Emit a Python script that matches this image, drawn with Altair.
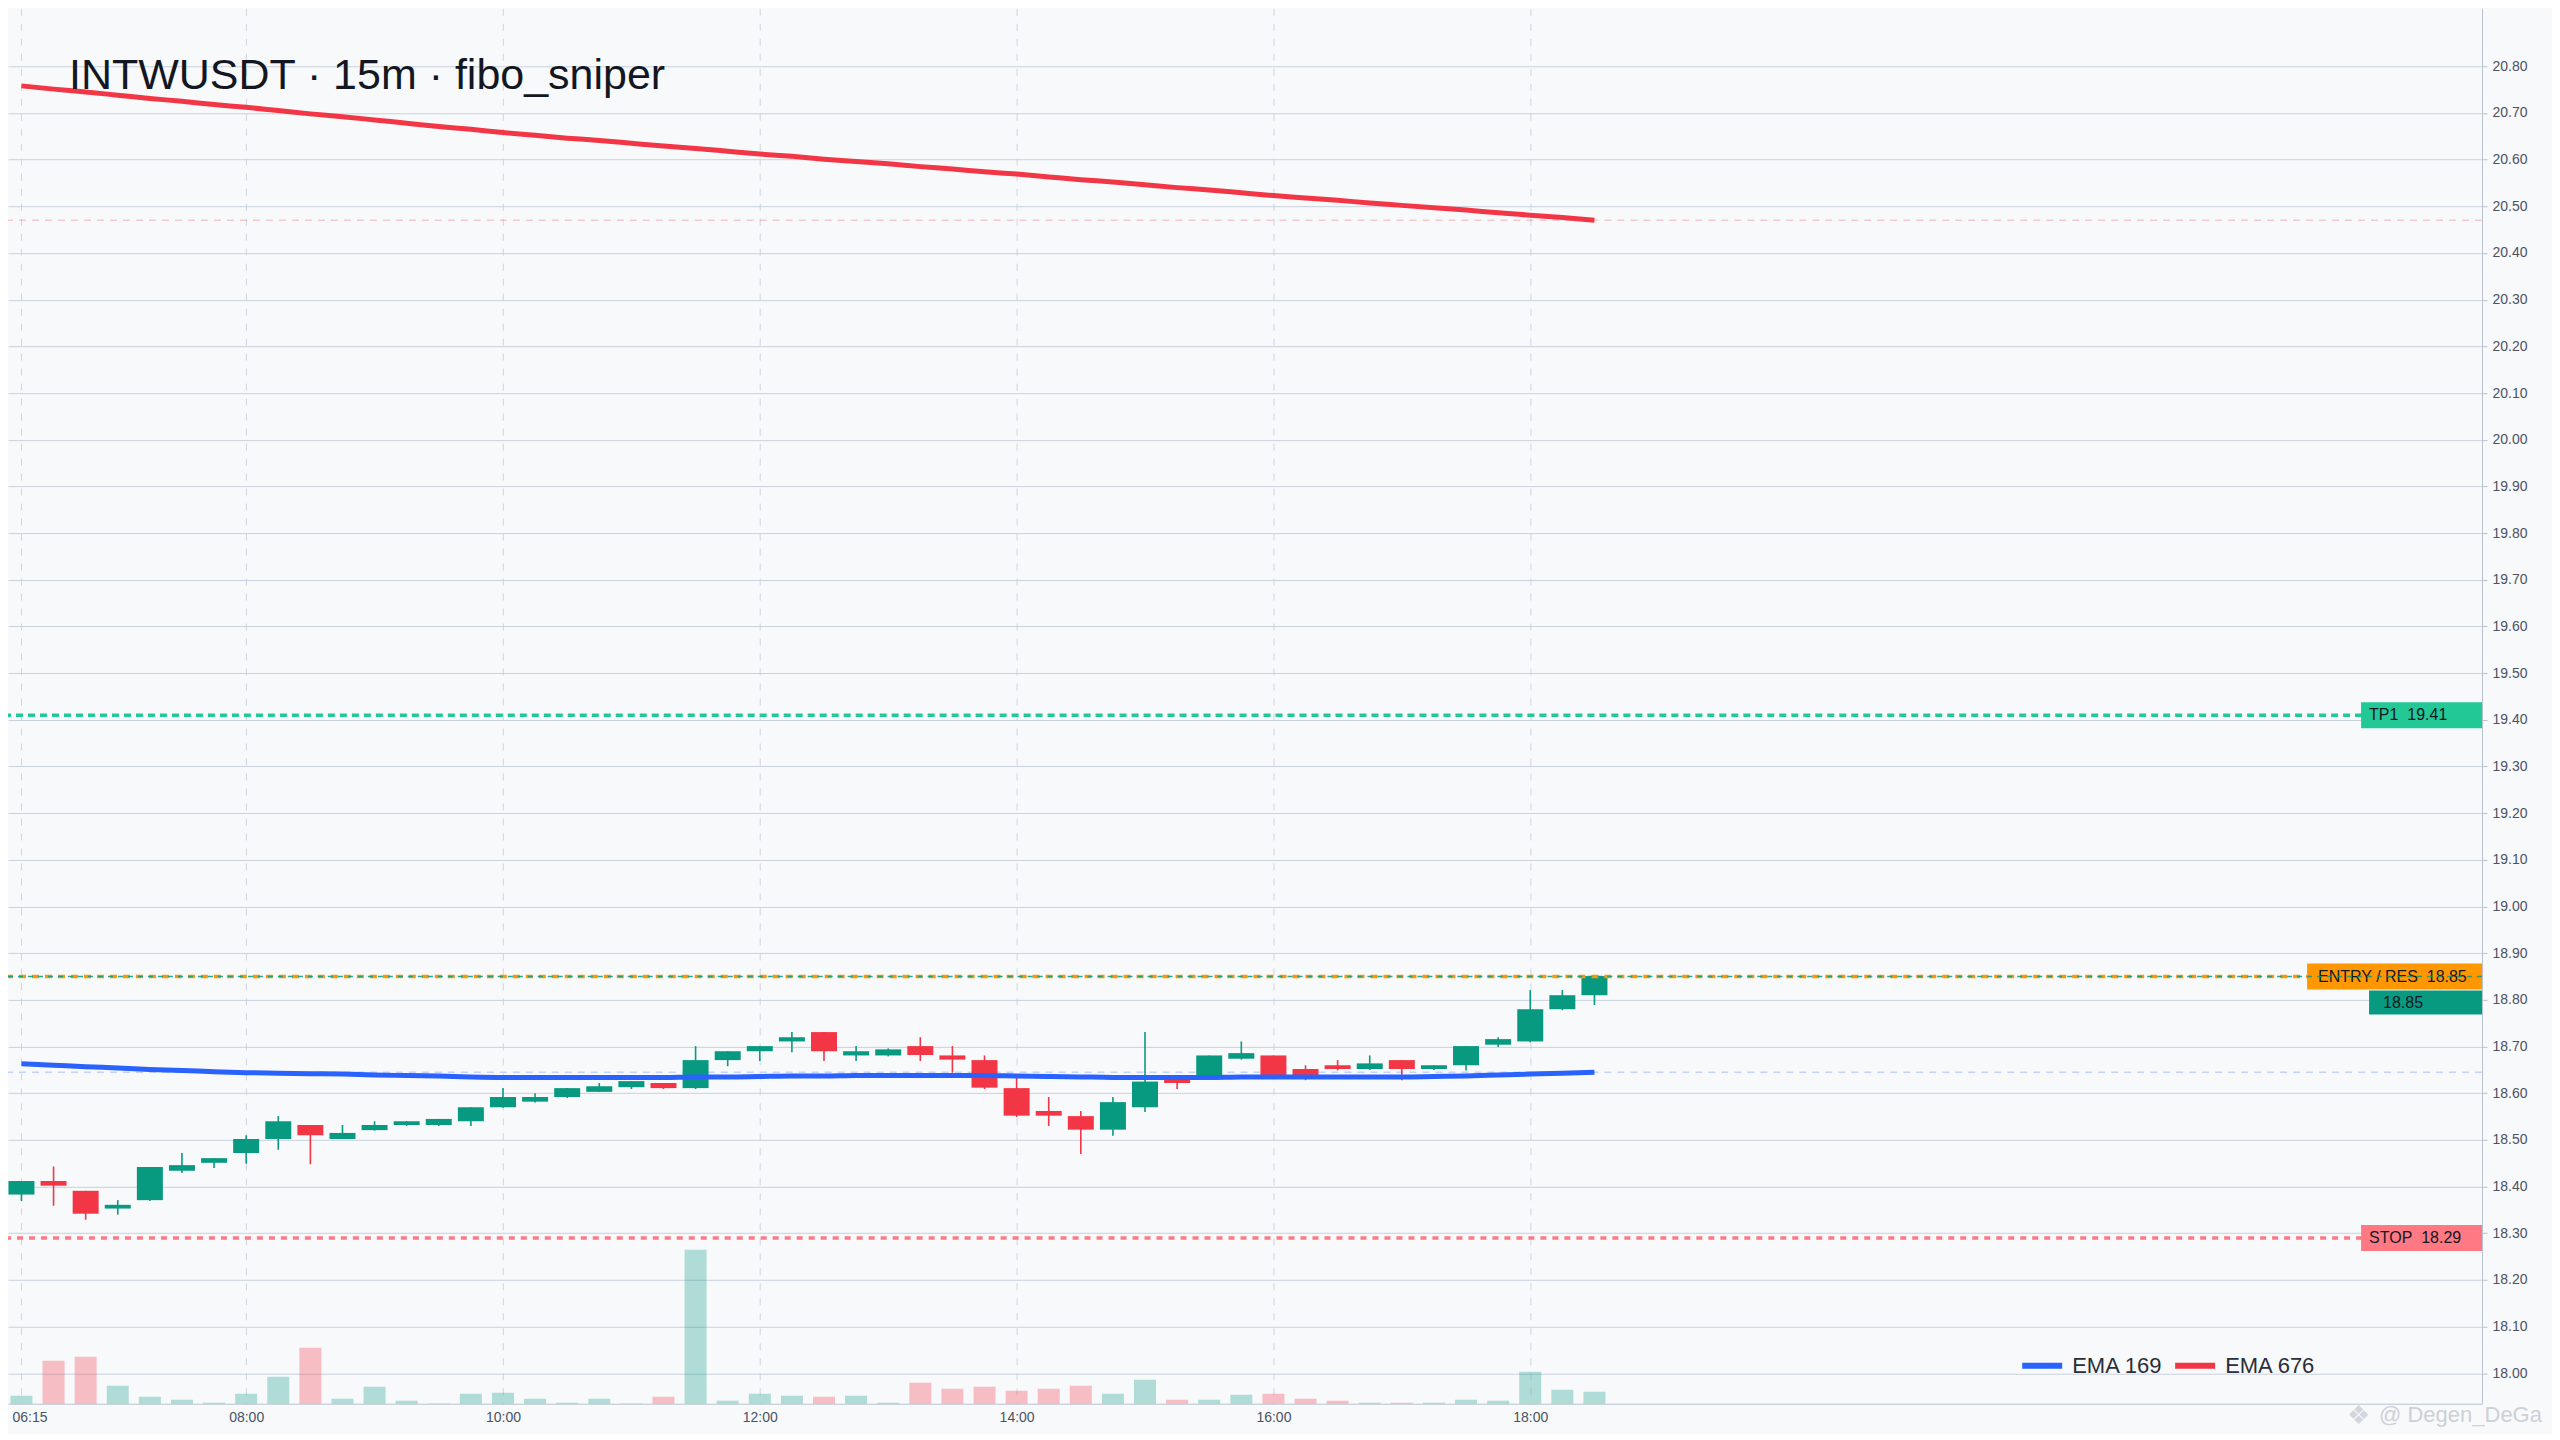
import altair as alt
import pandas as pd

# ---------------- data ----------------
TITLE = "INTWUSDT · 15m · fibo_sniper"
WATERMARK = "@ Degen_DeGa"
LOGO = "❖"

times = ["06:15", "06:30", "06:45", "07:00", "07:15", "07:30", "07:45", "08:00",
         "08:15", "08:30", "08:45", "09:00", "09:15", "09:30", "09:45", "10:00",
         "10:15", "10:30", "10:45", "11:00", "11:15", "11:30", "11:45", "12:00",
         "12:15", "12:30", "12:45", "13:00", "13:15", "13:30", "13:45", "14:00",
         "14:15", "14:30", "14:45", "15:00", "15:15", "15:30", "15:45", "16:00",
         "16:15", "16:30", "16:45", "17:00", "17:15", "17:30", "17:45", "18:00",
         "18:15", "18:30"]

opens = [18.383, 18.412, 18.391, 18.353, 18.371, 18.434, 18.451, 18.472,
         18.502, 18.532, 18.502, 18.521, 18.532, 18.532, 18.540, 18.570,
         18.582, 18.592, 18.603, 18.613, 18.622, 18.611, 18.671, 18.690,
         18.711, 18.731, 18.681, 18.681, 18.701, 18.681, 18.671, 18.611,
         18.562, 18.551, 18.522, 18.570, 18.636, 18.632, 18.674, 18.681,
         18.652, 18.660, 18.652, 18.671, 18.652, 18.660, 18.704, 18.711,
         18.780, 18.810]
highs = [18.412, 18.443, 18.391, 18.371, 18.442, 18.472, 18.461, 18.510,
         18.551, 18.532, 18.532, 18.540, 18.540, 18.545, 18.570, 18.611,
         18.600, 18.611, 18.622, 18.626, 18.622, 18.701, 18.690, 18.701,
         18.731, 18.731, 18.701, 18.696, 18.720, 18.701, 18.681, 18.633,
         18.592, 18.562, 18.592, 18.731, 18.636, 18.681, 18.711, 18.681,
         18.660, 18.671, 18.681, 18.671, 18.660, 18.701, 18.720, 18.821,
         18.821, 18.851]
lows = [18.369, 18.359, 18.329, 18.340, 18.369, 18.429, 18.440, 18.449,
        18.479, 18.448, 18.502, 18.520, 18.530, 18.530, 18.530, 18.569,
        18.580, 18.590, 18.603, 18.609, 18.609, 18.609, 18.658, 18.669,
        18.688, 18.669, 18.669, 18.679, 18.669, 18.644, 18.609, 18.549,
        18.530, 18.470, 18.509, 18.560, 18.609, 18.630, 18.672, 18.635,
        18.628, 18.649, 18.650, 18.628, 18.650, 18.649, 18.699, 18.709,
        18.778, 18.789]
closes = [18.412, 18.402, 18.342, 18.361, 18.442, 18.446, 18.461, 18.502,
          18.540, 18.510, 18.515, 18.532, 18.540, 18.545, 18.570, 18.592,
          18.592, 18.611, 18.615, 18.626, 18.611, 18.671, 18.690, 18.701,
          18.720, 18.690, 18.690, 18.694, 18.682, 18.672, 18.612, 18.552,
          18.552, 18.522, 18.581, 18.625, 18.622, 18.681, 18.686, 18.637,
          18.637, 18.652, 18.664, 18.652, 18.660, 18.701, 18.716, 18.780,
          18.810, 18.851]
volumes = [24, 129, 141, 54, 21, 12, 3, 30, 81, 168, 15, 51, 9, 1, 30, 33,
           15, 3, 15, 1, 21, 462, 9, 30, 24, 21, 24, 3, 63, 45, 51, 39,
           45, 54, 30, 72, 12, 12, 27, 30, 15, 9, 3, 3, 3, 12, 9, 96,
           42, 36]
ema169 = [18.663, 18.660, 18.657, 18.654, 18.651, 18.649, 18.646, 18.644,
          18.643, 18.642, 18.641, 18.639, 18.638, 18.637, 18.635, 18.634,
          18.634, 18.634, 18.634, 18.634, 18.634, 18.635, 18.635, 18.636,
          18.637, 18.637, 18.638, 18.638, 18.638, 18.638, 18.638, 18.637,
          18.636, 18.635, 18.634, 18.634, 18.634, 18.634, 18.635, 18.635,
          18.635, 18.635, 18.635, 18.635, 18.636, 18.637, 18.639, 18.641,
          18.643, 18.645]
ema676 = [20.758, 20.751, 20.745, 20.738, 20.731, 20.725, 20.718, 20.712,
          20.705, 20.698, 20.692, 20.685, 20.678, 20.671, 20.665, 20.658,
          20.652, 20.646, 20.641, 20.635, 20.629, 20.624, 20.618, 20.612,
          20.607, 20.601, 20.596, 20.591, 20.585, 20.580, 20.574, 20.569,
          20.563, 20.557, 20.552, 20.546, 20.540, 20.535, 20.529, 20.523,
          20.518, 20.513, 20.507, 20.502, 20.497, 20.492, 20.486, 20.481,
          20.476, 20.470]
ema_names = ["EMA 169", "EMA 676"]

level_names = ["TP1", "ENTRY / RES", "STOP"]
level_prices = [19.41, 18.85, 18.29]
last_price = 18.85

x_tick_labels = ["06:15", "08:00", "10:00", "12:00", "14:00", "16:00", "18:00"]
y_tick_labels = ["18.00", "18.10", "18.20", "18.30", "18.40", "18.50", "18.60",
                 "18.70", "18.80", "18.90", "19.00", "19.10", "19.20", "19.30",
                 "19.40", "19.50", "19.60", "19.70", "19.80", "19.90", "20.00",
                 "20.10", "20.20", "20.30", "20.40", "20.50", "20.60", "20.70",
                 "20.80"]

# ---------------- styles ----------------
FONT = "Liberation Sans"
BG = "#f8f9fb"
GREEN = "#089981"
RED = "#F23645"
BLUE = "#2962FF"
TEXT = "#131722"
AXIS_TEXT = "#4a5263"
PLOT_W, PLOT_H = 2475, 1396
X_DOMAIN = [371.05, 1522.4]
Y_DOMAIN = [17.9349, 20.9242]
VOL_DOMAIN = [0, 4188]
NBSP2 = "\u00a0\u00a0"

level_style = {
    "TP1": dict(color="#22c997", dash=[7, 5], box_x=2354, text_x=2362),
    "ENTRY / RES": dict(color="#ff9800", dash=[7, 6], box_x=2300, text_x=2311),
    "STOP": dict(color="#ff7984", dash=[6, 6], box_x=2354, text_x=2362),
}
ema_colors = [BLUE, RED]


def to_min(s):
    h, m = s.split(":")
    return int(h) * 60 + int(m)


candles = pd.DataFrame({
    "t": [to_min(s) for s in times],
    "open": opens, "high": highs, "low": lows, "close": closes, "vol": volumes,
})
ema_df = pd.concat([
    pd.DataFrame({"t": candles["t"], "v": ema169, "series": ema_names[0]}),
    pd.DataFrame({"t": candles["t"], "v": ema676, "series": ema_names[1]}),
])

first_tick = to_min(x_tick_labels[0])
xscale = alt.Scale(domain=X_DOMAIN, nice=False, zero=False)
xax = alt.Axis(
    values=[to_min(s) for s in x_tick_labels],
    labelExpr="timeFormat(datetime(2024, 0, 1, 0, datum.value), '%H:%M')",
    title=None, grid=True, gridDash=[7, 8], gridColor="#cdd5e2", gridWidth=1,
    ticks=False, domain=True, domainColor="#b9c3d1", labelFontSize=14,
    labelColor=AXIS_TEXT, labelFont=FONT, labelPadding=7,
    labelOffset={"condition": {"test": f"datum.value <= {first_tick}", "value": 8}, "value": 0},
    labelOverlap=False, labelBound=False,
)
yscale = alt.Scale(domain=Y_DOMAIN, nice=False, zero=False)
yax = alt.Axis(
    orient="right", values=[float(v) for v in y_tick_labels], format=".2f",
    title=None, grid=True, gridColor="#c9d1dd", gridWidth=1, domain=True,
    domainColor="#b9c3d1", ticks=True, tickColor="#b9c3d1", tickSize=5,
    labelPadding=5, labelFontSize=14, labelColor=AXIS_TEXT, labelFont=FONT,
    labelOverlap=False,
)


def X(field):
    return alt.X(field, type="quantitative", scale=xscale, axis=xax)


def Y(field):
    return alt.Y(field, type="quantitative", scale=yscale, axis=yax)


up = "datum.close >= datum.open"

volume = alt.Chart(candles).mark_bar(width=22, opacity=0.3).encode(
    x=X("t"),
    y=alt.Y("vol:Q", scale=alt.Scale(domain=VOL_DOMAIN, nice=False), axis=None),
    y2=alt.datum(0),
    color=alt.condition(up, alt.value(GREEN), alt.value(RED)),
)

ema_last_lines = [
    alt.Chart(pd.DataFrame({"v": [vals[-1]]})).mark_rule(
        strokeWidth=1.5, strokeDash=[7, 6], opacity=0.25, color=col
    ).encode(y=Y("v"))
    for vals, col in zip([ema169, ema676], ema_colors)
]

wicks = alt.Chart(candles).mark_rule(strokeWidth=1.6).encode(
    x=X("t"), y=Y("low"), y2="high",
    color=alt.condition(up, alt.value(GREEN), alt.value(RED)),
)
bodies = alt.Chart(candles).mark_bar(width=26).encode(
    x=X("t"), y=Y("open"), y2="close",
    color=alt.condition(up, alt.value(GREEN), alt.value(RED)),
)

ema_lines = alt.Chart(ema_df).mark_line(strokeWidth=5, interpolate="monotone").encode(
    x=X("t"), y=Y("v"),
    color=alt.Color(
        "series:N",
        scale=alt.Scale(domain=ema_names, range=ema_colors),
        legend=alt.Legend(
            orient="none", legendX=2012, legendY=1335, direction="horizontal",
            title=None, symbolType="stroke", symbolStrokeWidth=6, symbolSize=1600,
            labelFontSize=22, labelColor="#2a2e39", labelFont=FONT,
            columnPadding=0, labelOffset=7, padding=0,
        ),
    ),
    detail="series:N",
)

level_layers = []
box_layers = []
for name, price in zip(level_names, level_prices):
    st = level_style[name]
    df = pd.DataFrame({"p": [price], "label": [f"{name}{NBSP2}{price:.2f}"]})
    base = alt.Chart(df)
    level_layers.append(
        base.mark_rule(color=st["color"], strokeWidth=3.5, strokeDash=st["dash"]).encode(y=Y("p"))
    )
    box_layers.append(
        base.mark_rule(color=st["color"], strokeWidth=26, strokeCap="butt").encode(
            x=alt.value(st["box_x"]), x2=alt.value(PLOT_W), y=Y("p"))
    )
    box_layers.append(
        base.mark_text(align="left", baseline="middle", fontSize=16, color=TEXT, font=FONT).encode(
            x=alt.value(st["text_x"]), y=Y("p"), text="label:N")
    )

last_df = pd.DataFrame({"p": [last_price], "label": [f"{last_price:.2f}"]})
last_line = alt.Chart(last_df).mark_rule(
    color=GREEN, strokeWidth=1.5, strokeDash=[5, 5], opacity=0.85
).encode(y=Y("p"))
last_box = alt.Chart(last_df).mark_rule(
    color=GREEN, strokeWidth=24, strokeCap="butt", yOffset=26
).encode(x=alt.value(2362), x2=alt.value(PLOT_W), y=Y("p"))
last_text = alt.Chart(last_df).mark_text(
    align="left", baseline="middle", fontSize=16, color=TEXT, font=FONT, yOffset=26
).encode(x=alt.value(2376), y=Y("p"), text="label:N")

title = alt.Chart(pd.DataFrame({"t": [TITLE]})).mark_text(
    align="left", baseline="alphabetic", fontSize=43, color=TEXT, font=FONT
).encode(x=alt.value(61), y=alt.value(81), text="t:N")

wm_logo = alt.Chart(pd.DataFrame({"t": [LOGO]})).mark_text(
    align="left", baseline="alphabetic", fontSize=26, color="#d3d6dc", font="DejaVu Sans"
).encode(x=alt.value(2340), y=alt.value(1416), text="t:N")
wm_text = alt.Chart(pd.DataFrame({"t": [WATERMARK]})).mark_text(
    align="left", baseline="alphabetic", fontSize=22, color="#cdd0d6", font=FONT
).encode(x=alt.value(2372), y=alt.value(1414), text="t:N")

price_group = alt.layer(
    *ema_last_lines, wicks, bodies, ema_lines, *level_layers, *box_layers,
    last_line, last_box, last_text, title, wm_logo, wm_text,
)

chart = alt.layer(volume, price_group).resolve_scale(y="independent").properties(
    width=PLOT_W, height=PLOT_H,
    autosize=alt.AutoSizeParams(type="none"),
    padding={"left": 0, "top": 0, "right": 70, "bottom": 30},
    background=BG,
).configure_view(stroke=None)

chart.save("out.html", embed_options={"renderer": "svg", "actions": False})
